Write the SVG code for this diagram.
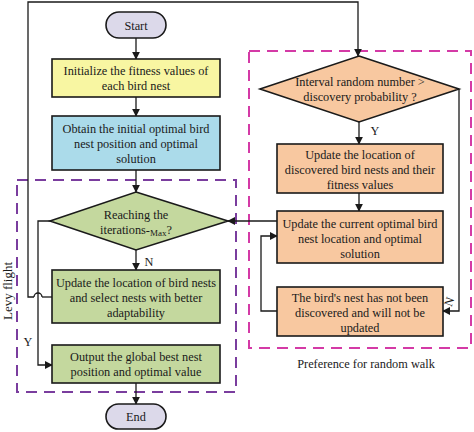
<svg xmlns="http://www.w3.org/2000/svg" width="474" height="432" viewBox="0 0 474 432">
<style>
text{font-family:"Liberation Serif","Times New Roman",serif;font-size:12.3px;fill:#1a1a1a;text-anchor:middle}
.box{stroke:#1a1a1a;stroke-width:1.6}
.ln{fill:none;stroke:#1a1a1a;stroke-width:1.3}
.dash{fill:none;stroke-width:2;stroke-dasharray:11,7}
</style>
<defs>
<marker id="ah" viewBox="0 0 10 10" refX="9" refY="5" markerWidth="8" markerHeight="8" orient="auto" markerUnits="userSpaceOnUse">
<path d="M0,0 L10,5 L0,10 z" fill="#1a1a1a"/>
</marker>
</defs>
<rect width="474" height="432" fill="#fff"/>
<g id="levy-region">
<rect class="dash" x="17" y="180" width="219" height="212" stroke="#7a3d9e"/>
<text transform="translate(12,291) rotate(-90)" style="font-size:13px">Levy flight</text>
</g>
<g id="random-walk-region">
<rect class="dash" x="249" y="51" width="222" height="297" stroke="#d43aa6"/>
<text x="366" y="368">Preference for random walk</text>
</g>
<g id="connectors">
<line class="ln" x1="136" y1="38" x2="136" y2="59" marker-end="url(#ah)"/>
<line class="ln" x1="136" y1="97" x2="136" y2="116" marker-end="url(#ah)"/>
<line class="ln" x1="136" y1="170" x2="136" y2="192" marker-end="url(#ah)"/>
<line class="ln" x1="136" y1="250" x2="136" y2="270" marker-end="url(#ah)"/>
<line class="ln" x1="136" y1="383" x2="136" y2="404" marker-end="url(#ah)"/>
<text x="149" y="266">N</text>
<polyline class="ln" points="52,297 42,297"/>
<path class="ln" d="M42,297 A4,4 0 0 0 34,297"/>
<polyline class="ln" points="34,297 28,297 28,2 358,2 358,56" marker-end="url(#ah)"/>
<polyline class="ln" points="50,221 38,221 38,365 52,365" marker-end="url(#ah)"/>
<text x="28" y="346">Y</text>
<line class="ln" x1="359" y1="122" x2="359" y2="144" marker-end="url(#ah)"/>
<text x="375" y="135">Y</text>
<line class="ln" x1="359" y1="193" x2="359" y2="211" marker-end="url(#ah)"/>
<polyline class="ln" points="459,89 459,311 443,311" marker-end="url(#ah)"/>
<text transform="translate(453,303) rotate(-70)">N</text>
<polyline class="ln" points="277,311 261,311 261,236 277,236" marker-end="url(#ah)"/>
<line class="ln" x1="277" y1="221" x2="228" y2="221" marker-end="url(#ah)"/>
</g>
<g id="start">
<rect class="box" x="106" y="12" width="60" height="26" rx="13" fill="#dcd9ea"/>
<text x="136" y="29.5">Start</text>
</g>
<g id="init">
<rect class="box" x="52" y="59" width="168" height="38" fill="#f8f6a2"/>
<text x="136" y="75">Initialize the fitness values of</text>
<text x="136" y="90">each bird nest</text>
</g>
<g id="obtain">
<rect class="box" x="52" y="116" width="168" height="54" fill="#abdbea"/>
<text x="136" y="133">Obtain the initial optimal bird</text>
<text x="136" y="148">nest position and optimal</text>
<text x="136" y="163">solution</text>
</g>
<g id="reaching">
<polygon class="box" points="136,192 228,221 136,250 50,221" fill="#c4d89e"/>
<text x="136" y="219">Reaching the</text>
<text x="136" y="234">iterations-<tspan font-size="9" dy="2">Max</tspan><tspan dy="-2">?</tspan></text>
</g>
<g id="update-nests">
<rect class="box" x="52" y="270" width="168" height="53" fill="#c4d89e"/>
<text x="136" y="287">Update the location of bird nests</text>
<text x="136" y="302">and select nests with better</text>
<text x="136" y="317">adaptability</text>
</g>
<g id="output">
<rect class="box" x="52" y="345" width="168" height="38" fill="#c4d89e"/>
<text x="136" y="361">Output the global best nest</text>
<text x="136" y="376">position and optimal value</text>
</g>
<g id="end">
<rect class="box" x="106" y="404" width="60" height="25" rx="12.5" fill="#dcd9ea"/>
<text x="136" y="421">End</text>
</g>
<g id="interval">
<polygon class="box" points="359,56 459,89 359,122 260,89" fill="#f8c8a0"/>
<text x="360" y="86">Interval random number &gt;</text>
<text x="360" y="101">discovery probability ?</text>
</g>
<g id="update-discovered">
<rect class="box" x="277" y="144" width="166" height="49" fill="#f8c8a0"/>
<text x="360" y="159">Update the location of</text>
<text x="360" y="174">discovered bird nests and their</text>
<text x="360" y="189">fitness values</text>
</g>
<g id="update-current">
<rect class="box" x="277" y="211" width="166" height="52" fill="#f8c8a0"/>
<text x="360" y="228">Update the current optimal bird</text>
<text x="360" y="243">nest location and optimal</text>
<text x="360" y="258">solution</text>
</g>
<g id="not-discovered">
<rect class="box" x="277" y="287" width="166" height="49" fill="#f8c8a0"/>
<text x="360" y="302">The bird's nest has not been</text>
<text x="360" y="317">discovered and will not be</text>
<text x="360" y="332">updated</text>
</g>
</svg>
